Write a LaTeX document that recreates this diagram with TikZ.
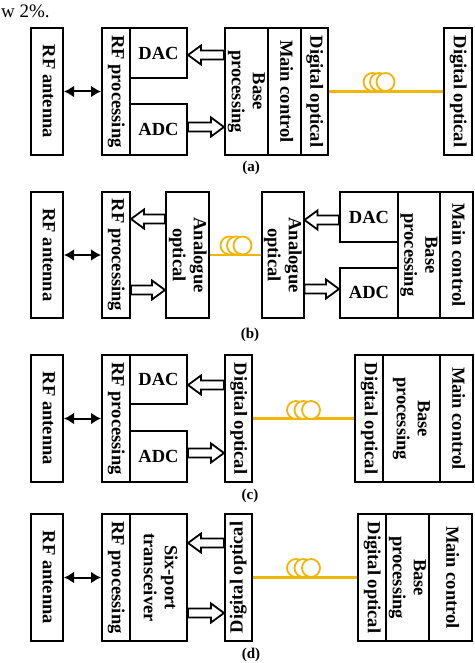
\documentclass[tikz,border=0pt]{standalone}
\usepackage{fontspec}
\setmainfont{Liberation Serif}
\usetikzlibrary{arrows.meta,calc}
\definecolor{fibercol}{RGB}{242,182,10}
\tikzset{
 box/.style={draw, line width=2pt, inner sep=0pt, font=\fontsize{18.5}{21}\selectfont\bfseries, align=center},
 hollow/.style={draw, fill=white, line width=1.8pt, line join=miter},
 dblarrow/.style={line width=2pt, {Latex[length=10pt,width=12pt]}-{Latex[length=10pt,width=12pt]}},
 fiber/.style={draw=fibercol, line width=2.5pt},
 coil/.style={draw=fibercol, fill=white, line width=1.8pt},
 panel/.style={font=\fontsize{15}{16}\selectfont\bfseries},
}
\newcommand\rt[1]{\rotatebox{-90}{\begin{tabular}{@{}c@{}}#1\end{tabular}}}
\newcommand\lft[1]{\rotatebox{90}{\begin{tabular}{@{}c@{}}#1\end{tabular}}}
\newcommand\harr[2]{\path[hollow] let \p1=#1, \p2=#2, \n1={ifthenelse(\x2>\x1,1,-1)} in
 (\x1,\y1+4.5pt) -- (\x2-\n1*13pt,\y1+4.5pt) -- (\x2-\n1*13pt,\y1+9.5pt) -- (\x2,\y1) -- (\x2-\n1*13pt,\y1-9.5pt) -- (\x2-\n1*13pt,\y1-4.5pt) -- (\x1,\y1-4.5pt) -- cycle;}
\newcommand\coils[3]{\foreach \i in {0,1,2}{\draw[coil] (#1+\i*#3,#2) circle (9);}}
\begin{document}
\begin{tikzpicture}[x=1pt,y=-1pt]
\useasboundingbox (0,0) rectangle (474,663);
\node[anchor=base west, font=\fontsize{19}{20}\selectfont, inner sep=0pt] (topt) at (1,18) {w 2\%.};
% ---------- (a)
\node[box, minimum width=32, minimum height=127] (antA) at (47,91.5) {\rt{RF antenna}};
\node[box, minimum width=28, minimum height=127] (rfA) at (116,91.5) {\rt{RF processing}};
\node[box, minimum width=57, minimum height=50] (dacA) at (158.5,53) {DAC};
\node[box, minimum width=57, minimum height=51] (adcA) at (158.5,129.5) {ADC};
\node[box, minimum width=43, minimum height=127] (baseA) at (246.5,91.5) {\rt{Base\\processing}};
\node[box, minimum width=33, minimum height=127] (mainA) at (284.5,91.5) {\rt{Main control}};
\node[box, minimum width=27, minimum height=127] (digA) at (314.5,91.5) {\rt{Digital optical}};
\node[box, minimum width=28, minimum height=127] (digA2) at (458,91.5) {\rt{Digital optical}};
\draw[dblarrow] (antA.east) -- (rfA.west);
\harr{(baseA.west |- 0,55)}{(dacA.east |- 0,55)}
\harr{(adcA.east |- 0,127)}{(baseA.west |- 0,127)}
\draw[fiber] (digA.east) -- (digA2.west);
\coils{372.5}{82}{6.5}
\node[panel] (la) at (251,168) {(a)};
% ---------- (b)
\node[box, minimum width=32, minimum height=126] (antB) at (47,255) {\rt{RF antenna}};
\node[box, minimum width=28, minimum height=126] (rfB) at (116,255) {\rt{RF processing}};
\node[box, minimum width=43, minimum height=126] (aoB1) at (187.5,255) {\rt{Analogue\\optical}};
\node[box, minimum width=41, minimum height=126] (aoB2) at (282.5,255) {\rt{Analogue\\optical}};
\node[box, minimum width=58, minimum height=50] (dacB) at (369,217) {DAC};
\node[box, minimum width=58, minimum height=50] (adcB) at (369,292.5) {ADC};
\node[box, minimum width=42, minimum height=126] (baseB) at (419,255) {\rt{Base\\processing}};
\node[box, minimum width=33, minimum height=126] (mainB) at (456.5,255) {\rt{Main control}};
\draw[dblarrow] (antB.east) -- (rfB.west);
\harr{(aoB1.west |- 0,219)}{(rfB.east |- 0,219)}
\harr{(rfB.east |- 0,290)}{(aoB1.west |- 0,290)}
\harr{(dacB.west |- 0,220)}{(aoB2.east |- 0,220)}
\harr{(aoB2.east |- 0,289)}{(adcB.west |- 0,289)}
\draw[fiber] (aoB1.east) -- (aoB2.west);
\coils{229.5}{245.5}{6.5}
\node[panel] (lb) at (250,335) {(b)};
% ---------- (c)
\node[box, minimum width=32, minimum height=127] (antC) at (47,418.5) {\rt{RF antenna}};
\node[box, minimum width=28, minimum height=127] (rfC) at (116,418.5) {\rt{RF processing}};
\node[box, minimum width=57, minimum height=49] (dacC) at (158.5,379.5) {DAC};
\node[box, minimum width=57, minimum height=51] (adcC) at (158.5,456.5) {ADC};
\node[box, minimum width=27, minimum height=127] (digC1) at (238.5,418.5) {\rt{Digital optical}};
\node[box, minimum width=28, minimum height=127] (digC2) at (369,418.5) {\rt{Digital optical}};
\node[box, minimum width=57, minimum height=127] (baseC) at (411.5,418.5) {\rt{Base\\processing}};
\node[box, minimum width=33, minimum height=127] (mainC) at (456.5,418.5) {\rt{Main control}};
\draw[dblarrow] (antC.east) -- (rfC.west);
\harr{(digC1.west |- 0,385)}{(dacC.east |- 0,385)}
\harr{(adcC.east |- 0,453)}{(digC1.west |- 0,453)}
\draw[fiber] (digC1.east) -- (digC2.west);
\coils{296}{410}{7.5}
\node[panel] (lc) at (250,496) {(c)};
% ---------- (d)
\node[box, minimum width=32, minimum height=127] (antD) at (47,577.5) {\rt{RF antenna}};
\node[box, minimum width=28, minimum height=127] (rfD) at (116,577.5) {\rt{RF processing}};
\node[box, minimum width=57, minimum height=127] (sixD) at (158.5,577.5) {\rt{Six-port\\transceiver}};
\node[box, minimum width=27, minimum height=127] (digD1) at (238.5,577.5) {\lft{Digital optical}};
\node[box, minimum width=28, minimum height=127] (digD2) at (372,577.5) {\rt{Digital optical}};
\node[box, minimum width=43, minimum height=127] (baseD) at (407.5,577.5) {\rt{Base\\processing}};
\node[box, minimum width=43, minimum height=127] (mainD) at (450.5,577.5) {\rt{Main control}};
\draw[dblarrow] (antD.east) -- (rfD.west);
\harr{(digD1.west |- 0,543)}{(sixD.east |- 0,543)}
\harr{(sixD.east |- 0,613)}{(digD1.west |- 0,613)}
\draw[fiber] (digD1.east) -- (digD2.west);
\coils{296}{568}{7.5}
\node[panel] (ld) at (251,655) {(d)};
\end{tikzpicture}
\end{document}
